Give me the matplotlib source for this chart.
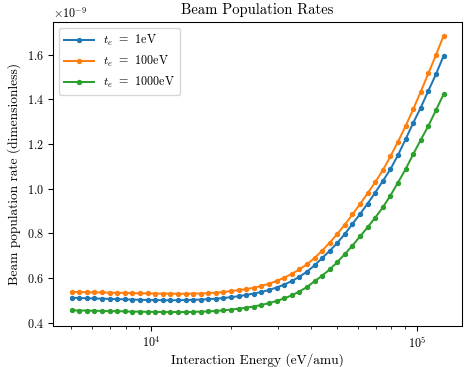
import numpy as np
import matplotlib
matplotlib.use("Agg")
import matplotlib.pyplot as plt

plt.rcParams['font.family'] = 'serif'
plt.rcParams['font.serif'] = ['cmr10']
plt.rcParams['mathtext.fontset'] = 'cm'
plt.rcParams['axes.formatter.use_mathtext'] = True
plt.rcParams['xtick.labelsize'] = 9
plt.rcParams['ytick.labelsize'] = 9

# energies (eV/amu), log-spaced sample grid
energy = [5012, 5353, 5717, 6105, 6521, 6964, 7437, 7943, 8483, 9060,
          9676, 10334, 11037, 11788, 12589, 13446, 14360, 15336, 16378, 17492,
          18681, 19953, 21310, 22759, 24306, 25959, 27724, 29609, 31623, 33772,
          36069, 38522, 41143, 43940, 46928, 50119, 53527, 57167, 61054, 65207,
          69640, 74375, 79433, 84834, 90602, 96761, 103342, 110364, 117865, 125893]

# beam population rate, units of 1e-9
rate_1eV = [0.511, 0.510, 0.509, 0.508, 0.507, 0.506, 0.505, 0.504, 0.503, 0.502,
            0.501, 0.501, 0.500, 0.500, 0.500, 0.501, 0.502, 0.503, 0.505, 0.507,
            0.510, 0.514, 0.518, 0.524, 0.530, 0.537, 0.546, 0.557, 0.570, 0.586,
            0.605, 0.628, 0.656, 0.689, 0.721, 0.757, 0.797, 0.842, 0.886, 0.933,
            0.982, 1.034, 1.087, 1.150, 1.221, 1.294, 1.363, 1.438, 1.512, 1.594]
rate_100eV = [0.537, 0.537, 0.536, 0.535, 0.535, 0.534, 0.533, 0.533, 0.532, 0.531,
              0.531, 0.530, 0.530, 0.530, 0.529, 0.529, 0.530, 0.530, 0.532, 0.534,
              0.537, 0.541, 0.545, 0.550, 0.556, 0.564, 0.574, 0.586, 0.601, 0.618,
              0.638, 0.661, 0.689, 0.722, 0.758, 0.797, 0.839, 0.884, 0.931, 0.979,
              1.029, 1.082, 1.144, 1.210, 1.280, 1.355, 1.434, 1.516, 1.598, 1.684]
rate_1000eV = [0.455, 0.454, 0.454, 0.453, 0.452, 0.451, 0.451, 0.450, 0.449, 0.449,
               0.448, 0.448, 0.447, 0.447, 0.447, 0.447, 0.448, 0.449, 0.450, 0.452,
               0.455, 0.458, 0.462, 0.467, 0.472, 0.479, 0.487, 0.497, 0.508, 0.522,
               0.539, 0.559, 0.585, 0.610, 0.638, 0.671, 0.707, 0.745, 0.786, 0.827,
               0.870, 0.916, 0.969, 1.027, 1.087, 1.154, 1.218, 1.281, 1.351, 1.422]

labels = [r'$t_e\;\,=\;\,1$eV', r'$t_e\;\,=\;\,100$eV', r'$t_e\;\,=\;\,1000$eV']
series = [rate_1eV, rate_100eV, rate_1000eV]

fig = plt.figure(figsize=(474 / 96, 367 / 96), dpi=96)
ax = fig.add_axes([0.112, 0.112, 0.863, 0.828])

for vals, lab in zip(series, labels):
    ax.plot(energy, np.array(vals) * 1e-9, marker='.', label=lab)

ax.set_xscale('log')
ax.set_title('Beam Population Rates', fontsize=11)
ax.set_xlabel('Interaction Energy (eV/amu)', fontsize=10, labelpad=1.5)
ax.set_ylabel('Beam population rate (dimensionless)', fontsize=10)
ax.legend(loc='upper left', fontsize=9, handlelength=2.5)

fig.savefig('out.png', dpi=96)
